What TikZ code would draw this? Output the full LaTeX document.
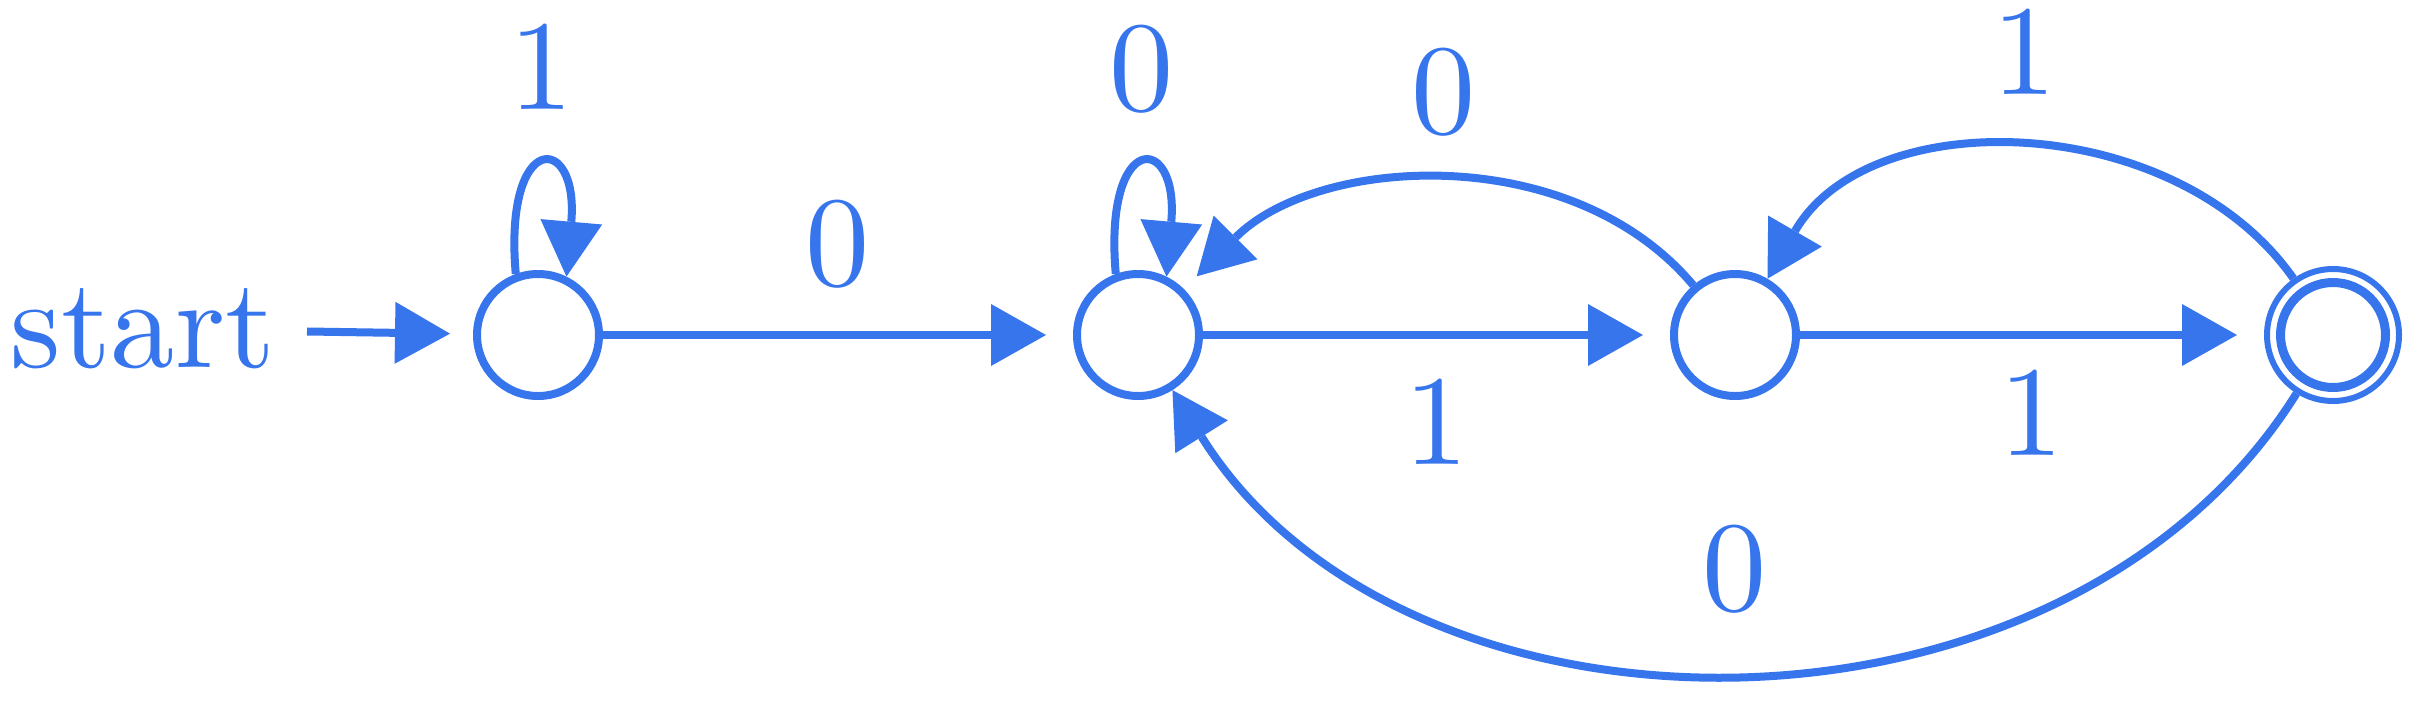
\documentclass[tikz,border=0pt]{standalone}
\usepackage{fontspec}
\usepackage{tikz}
\usetikzlibrary{arrows.meta,positioning}
\newfontfamily\lmten{lmroman10-regular}[Extension=.otf]
\definecolor{dfablue}{RGB}{55,117,237}
\tikzstyle{state} = [circle, draw=dfablue, line width=0.8mm, inner sep=0pt, minimum size=12.2mm]
\tikzstyle{accept} = [circle, draw=dfablue, line width=0.6mm, inner sep=0pt, minimum size=13.2mm]
\tikzstyle{lbl} = [text=dfablue, inner sep=0pt, font=\lmten\fontsize{36.5}{44}\selectfont]
\tikzstyle{tedge} = [draw, color=dfablue, line width=0.8mm,
  >={Triangle[length=5.5mm,width=6.2mm,line width=0pt]}, ->]

\begin{document}
\begin{tikzpicture}
\useasboundingbox (0,0) rectangle (243mm,-70.1mm);

\node[state] (q1) at (53.8mm,-33.5mm) {};
\node[state, on grid, right=60mm of q1] (q2) {};
\node[state, on grid, right=59.7mm of q2] (q3) {};
\node[accept, on grid, right=59.8mm of q3] (q4) {};
\draw[dfablue, line width=0.9mm] (q4) circle (5.25mm);

\node[lbl, left=19.7mm of q1, yshift=0.6mm] (init) {start};

% edges ==============================
\path[tedge, shorten <=3.1mm, shorten >=2.3mm] (init) edge (q1);

\path[tedge] (q1.110) to[out=95, in=85, distance=14.5mm] node[lbl, above=5.3mm] {1} (q1.64);
\path[tedge, shorten >=2.7mm] (q1) edge node[lbl, above=4.3mm] {0} (q2);

\path[tedge] (q2.110) to[out=95, in=85, distance=14.5mm] node[lbl, above=5.0mm] {0} (q2.64);
\path[tedge, shorten >=2.7mm] (q2) edge node[lbl, below=4.0mm] {1} (q3);

\path[tedge, shorten >=1.8mm] (q3) edge[out=130, in=45, looseness=0.95] node[lbl, above=4.2mm] {0} (q2);
\path[tedge, shorten >=2.7mm] (q3) edge node[lbl, below=3.1mm] {1} (q4);

% back from the final state
\path[tedge] (q4) edge[out=125, in=60] node[lbl, above=5.0mm] {1} (q3);
\path[tedge] (q4) edge[out=238, in=-58] node[lbl, above=5.4mm] {0} (q2);

\end{tikzpicture}
\end{document}
